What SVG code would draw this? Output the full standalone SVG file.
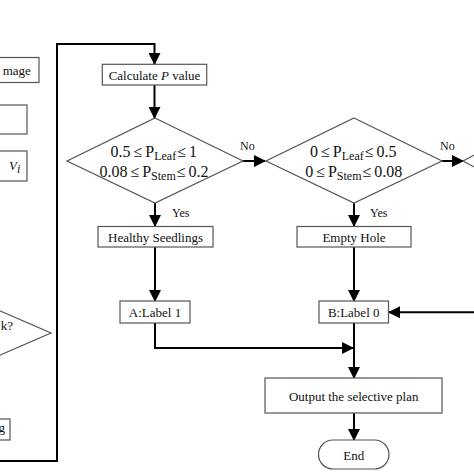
<svg xmlns="http://www.w3.org/2000/svg" width="474" height="474" viewBox="0 0 474 474">
<style>
.box{fill:#fff;stroke:#555;stroke-width:1.2}
.dia{fill:#fff;stroke:#555;stroke-width:1.2}
.con{fill:none;stroke:#000;stroke-width:2}
.t{font-family:"Liberation Serif","Times New Roman",serif;font-size:13px;fill:#111}
.d{font-family:"Liberation Serif","Times New Roman",serif;font-size:16px;fill:#111}
.lbl{font-family:"Liberation Serif","Times New Roman",serif;font-size:12px;fill:#111}
</style>
<defs>
<marker id="ah" markerUnits="userSpaceOnUse" markerWidth="12" markerHeight="12" refX="11" refY="6" orient="auto">
<path d="M0,0 L12,6 L0,12 Z" fill="#000"/>
</marker>
</defs>
<rect width="474" height="474" fill="#fff"/>

<g id="left-partial">
<g id="n-image"><rect class="box" x="-5" y="57.5" width="44" height="25"/><text class="t" x="2.7" y="75">mage</text></g>
<g id="n-box2"><rect class="box" x="-5" y="105" width="32" height="29"/></g>
<g id="n-vi"><rect class="box" x="-5" y="151" width="32" height="30"/><text class="t" x="9" y="170" font-style="italic" font-size="16">V<tspan font-size="12" dy="3">i</tspan></text></g>
<g id="n-check"><path class="dia" d="M-10,306.5 L51,333 L-10,359.5"/><text class="t" x="13" y="330" text-anchor="end">k?</text></g>
<g id="n-g"><rect class="box" x="-5" y="419" width="15" height="21"/><text class="t" x="-1.5" y="432">g</text></g>
</g>

<g id="connectors">
<polyline class="con" points="0,461 57,461 57,44 154.5,44 154.5,64" marker-end="url(#ah)"/>
<line class="con" x1="154.5" y1="85" x2="154.5" y2="118" marker-end="url(#ah)"/>
<line class="con" x1="243" y1="161" x2="265" y2="161" marker-end="url(#ah)"/>
<line class="con" x1="442" y1="161" x2="463" y2="161" marker-end="url(#ah)"/>
<line class="con" x1="155" y1="203" x2="155" y2="226" marker-end="url(#ah)"/>
<line class="con" x1="354" y1="203" x2="354" y2="226" marker-end="url(#ah)"/>
<line class="con" x1="155" y1="247" x2="155" y2="301" marker-end="url(#ah)"/>
<line class="con" x1="354" y1="247" x2="354" y2="301" marker-end="url(#ah)"/>
<line class="con" x1="474" y1="312.3" x2="389" y2="312.3" marker-end="url(#ah)"/>
<polyline class="con" points="155,323 155,348 353,348" marker-end="url(#ah)"/>
<line class="con" x1="354" y1="323" x2="354" y2="378" marker-end="url(#ah)"/>
<line class="con" x1="354" y1="413" x2="354" y2="440" marker-end="url(#ah)"/>
<text class="lbl" x="240" y="150">No</text>
<text class="lbl" x="440" y="150">No</text>
<text class="lbl" x="172" y="217">Yes</text>
<text class="lbl" x="370" y="217">Yes</text>
</g>

<g id="n-calc"><rect class="box" x="102.3" y="64.3" width="104.4" height="20.7"/><text class="t" x="154.5" y="79.5" text-anchor="middle">Calculate <tspan font-style="italic">P</tspan> value</text></g>

<g id="n-d1"><polygon class="dia" points="155,118 243,161 155,203 67,161"/>
<text class="d" x="153.7" y="157.3" text-anchor="middle">0.5<tspan dx="3">≤</tspan><tspan dx="3">P</tspan><tspan font-size="12" dy="3">Leaf</tspan><tspan dy="-3" dx="1">≤</tspan><tspan dx="3">1</tspan></text>
<text class="d" x="154" y="176.7" text-anchor="middle">0.08<tspan dx="3">≤</tspan><tspan dx="3">P</tspan><tspan font-size="12" dy="3">Stem</tspan><tspan dy="-3" dx="1">≤</tspan><tspan dx="3">0.2</tspan></text>
</g>

<g id="n-d2"><polygon class="dia" points="354,118 442,161 354,203 266,161"/>
<text class="d" x="353.3" y="157.3" text-anchor="middle">0<tspan dx="3">≤</tspan><tspan dx="3">P</tspan><tspan font-size="12" dy="3">Leaf</tspan><tspan dy="-3" dx="1">≤</tspan><tspan dx="3">0.5</tspan></text>
<text class="d" x="353.7" y="176.7" text-anchor="middle">0<tspan dx="3">≤</tspan><tspan dx="3">P</tspan><tspan font-size="12" dy="3">Stem</tspan><tspan dy="-3" dx="1">≤</tspan><tspan dx="3">0.08</tspan></text>
</g>

<g id="n-d3"><path class="dia" d="M476,154 L463,161 L476,168"/></g>

<g id="n-healthy"><rect class="box" x="98" y="226.5" width="115" height="20.5"/><text class="t" x="155.5" y="241.5" text-anchor="middle">Healthy Seedlings</text></g>
<g id="n-empty"><rect class="box" x="297" y="226.5" width="114" height="20.5"/><text class="t" x="354" y="241.5" text-anchor="middle">Empty Hole</text></g>
<g id="n-a"><rect class="box" x="120" y="301" width="70" height="22"/><text class="t" x="155" y="316.5" text-anchor="middle">A:Label 1</text></g>
<g id="n-b"><rect class="box" x="319" y="301" width="69.5" height="22"/><text class="t" x="353.7" y="316.5" text-anchor="middle">B:Label 0</text></g>
<g id="n-output"><rect class="box" x="265" y="378" width="177" height="35"/><text class="t" x="353.7" y="400.5" text-anchor="middle">Output the selective plan</text></g>
<g id="n-end"><rect class="box" x="318.5" y="440" width="70.5" height="29" rx="14.5" ry="14.5"/><text class="t" x="353.7" y="459.5" text-anchor="middle">End</text></g>
</svg>
